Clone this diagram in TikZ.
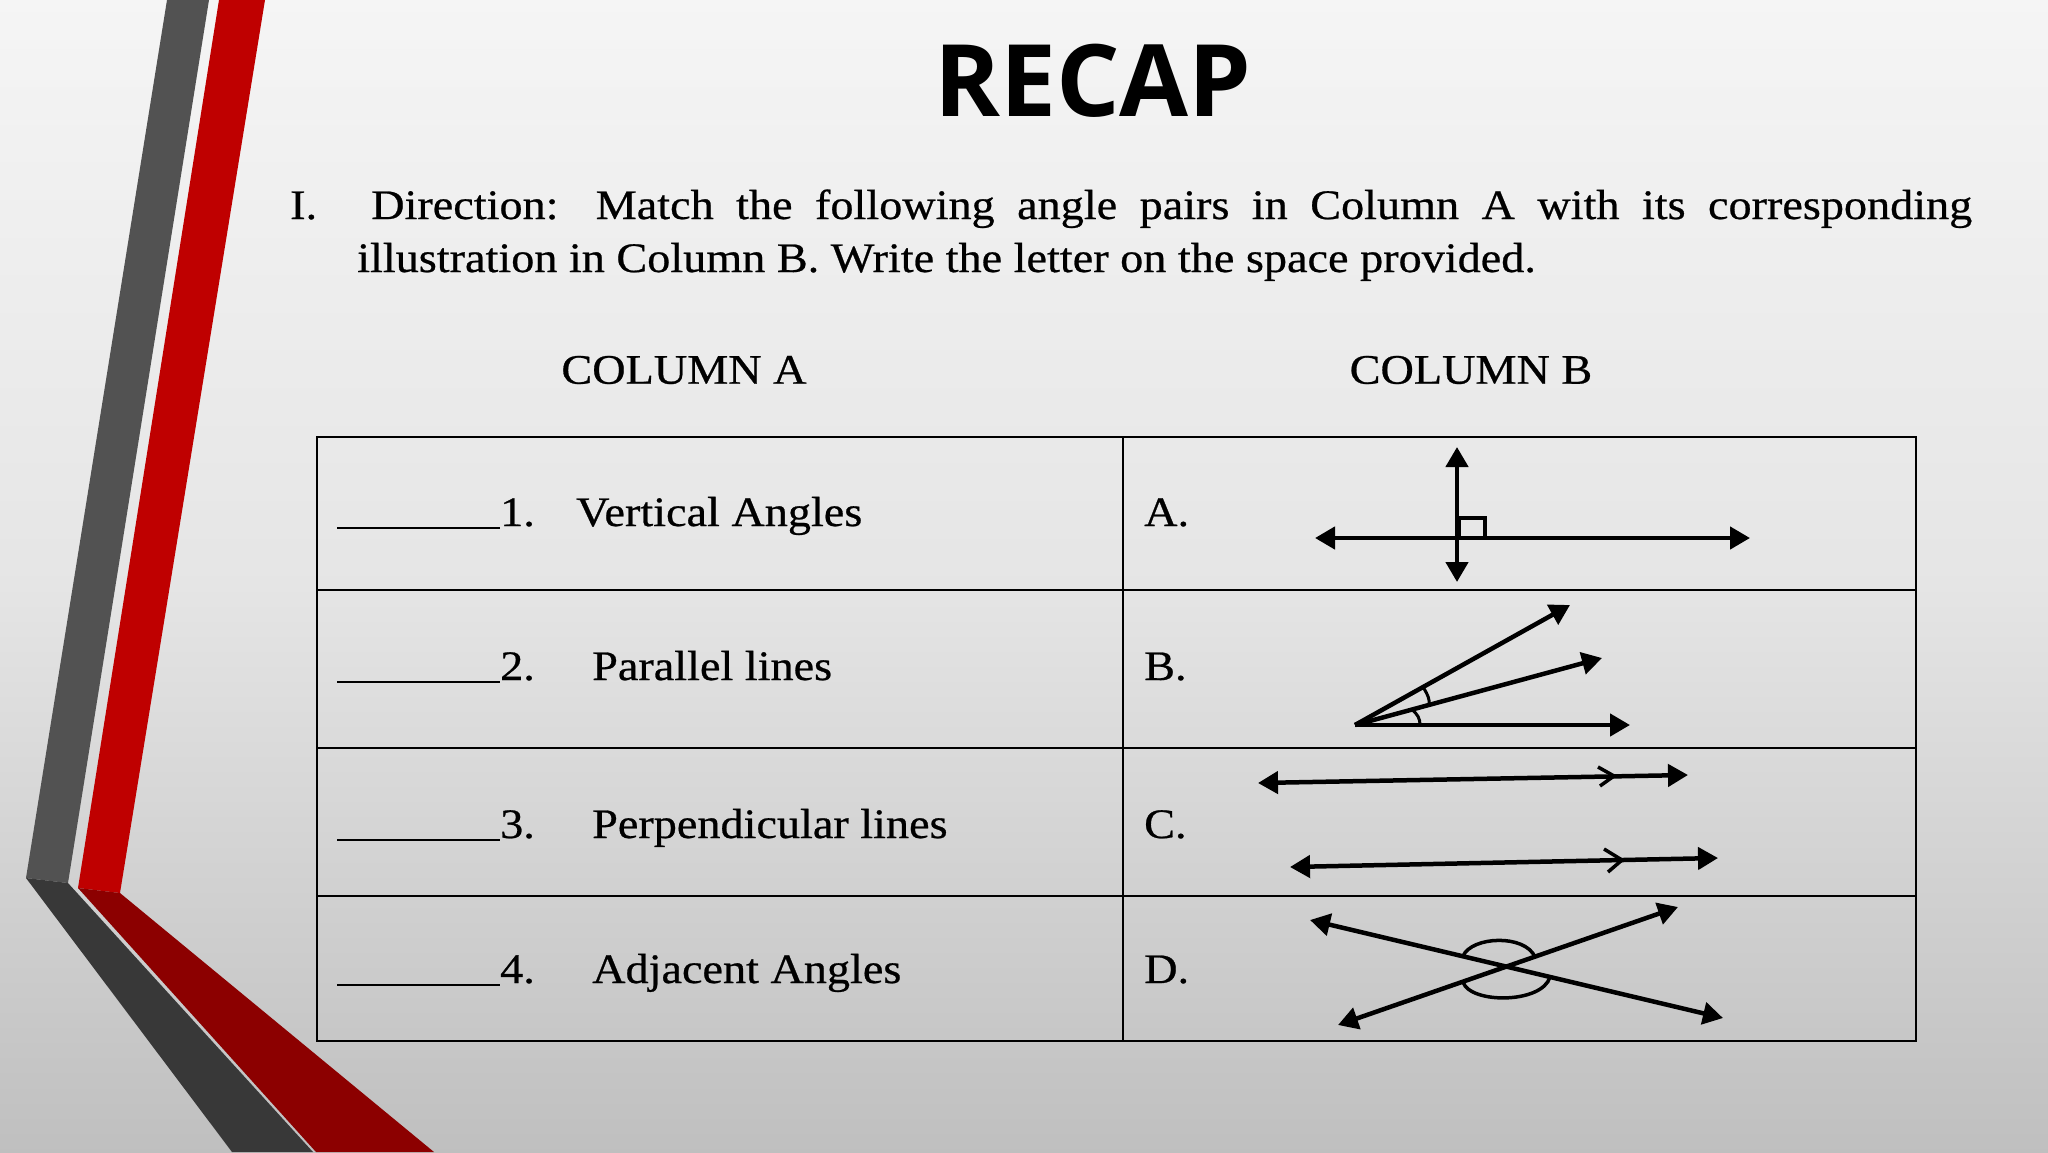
\documentclass[tikz,border=0pt]{standalone}
\usepackage{fontspec}
\setmainfont{Liberation Serif}[FakeStretch=1.1,FakeBold=0.6]
\newfontfamily\titlefont{Open Sans}
\usetikzlibrary{arrows.meta}
\begin{document}
\begin{tikzpicture}[x=1pt,y=-1pt,
  fig/.style={line width=4.5pt,black},
  ar/.style={fig,{Triangle[length=20pt,width=22pt]}-{Triangle[length=20pt,width=22pt]}},
  ra/.style={fig,-{Triangle[length=20pt,width=22pt]}},
  grid/.style={line width=2pt,black},
  txt/.style={font=\fontsize{42}{50}\selectfont,inner sep=0pt},
]
\useasboundingbox (0,0) rectangle (2048,1152);
\shade[top color=white!92!gray, bottom color=gray!50, middle color=gray!20] (0,0) rectangle (2048,1152);
% stripes
\fill[gray!30!black!80] (167,0) -- (209,0) -- (68,883) -- (26,878) -- cycle;
\fill[black!78] (26,878) -- (68,883) -- (313,1152) -- (232,1152) -- cycle;
\fill[red!75!black] (219,0) -- (265,0) -- (120,893) -- (78,888) -- cycle;
\fill[red!55!black] (78,888) -- (120,893) -- (434,1152) -- (316,1152) -- cycle;
% title
\node[font=\titlefont\bfseries\fontsize{100}{110}\selectfont] (title) at (1093,81) {RECAP};
\node[txt,anchor=base west] (num) at (290,219) {I.};
\node[txt,anchor=base west] (dir1) at (371,219) {\hbox to 1601pt{Direction: Match the following angle pairs in Column A with its corresponding}};
\node[txt,anchor=base west] (dir2) at (357,272) {illustration in Column B. Write the letter on the space provided.};
\node[txt] (ca) at (684,370) {COLUMN A};
\node[txt] (cb) at (1471,370) {COLUMN B};
% table
\draw[grid] (317,437) rectangle (1916,1041);
\draw[grid] (1123,437) -- (1123,1041);
\draw[grid] (317,590) -- (1916,590);
\draw[grid] (317,748) -- (1916,748);
\draw[grid] (317,896) -- (1916,896);
% column A
\foreach \y/\n/\t/\xx in {511/1./Vertical Angles/576, 665/2./Parallel lines/592, 823/3./Perpendicular lines/592, 968/4./Adjacent Angles/592}{
  \draw[line width=1.6pt] (337,\y+17) -- (500,\y+17);
  \node[txt,anchor=base west] at (500,\y+15) {\n};
  \node[txt,anchor=base west] at (\xx,\y+15) {\t};
}
\foreach \y/\l in {511/A., 665/B., 823/C., 968/D.}{
  \node[txt,anchor=base west] at (1144,\y+15) {\l};
}
% A
\coordinate (a1) at (1315,538); \coordinate (a2) at (1750,538);
\coordinate (a3) at (1457,447); \coordinate (a4) at (1457,582);
\draw[ar] (a1) -- (a2);
\draw[ar] (a3) -- (a4);
\draw[line width=3.5pt] (1459,518) rectangle (1485,538);
% B
\coordinate (v) at (1355,725);
\coordinate (b1) at (1570,605); \coordinate (b2) at (1602,658); \coordinate (b3) at (1630,725);
\draw[ra] (v) -- (b1);
\draw[ra] (v) -- (b2);
\draw[ra] (v) -- (b3);
\draw[line width=3pt] (1423,687) .. controls (1428,695) and (1430,700) .. (1429,705);
\draw[line width=3pt] (1411,709) .. controls (1418,714) and (1420,719) .. (1420,725);
% C
\coordinate (c1) at (1258,783); \coordinate (c2) at (1688,775);
\coordinate (c3) at (1290,867); \coordinate (c4) at (1718,858);
\draw[ar] (c1) -- (c2);
\draw[ar] (c3) -- (c4);
\draw[line width=3.5pt] (1598,767) -- (1614,776) -- (1600,786);
\draw[line width=3.5pt] (1604,849) -- (1622,860) -- (1608,872);
% D
\coordinate (d1) at (1310,920); \coordinate (d2) at (1723,1018);
\coordinate (d3) at (1338,1025); \coordinate (d4) at (1678,907);
\draw[ar] (d1) -- (d2);
\draw[ar] (d3) -- (d4);
\draw[line width=3.5pt] (1463,956) .. controls (1472,936) and (1525,934) .. (1535,957);
\draw[line width=3.5pt] (1463,982) .. controls (1470,1004) and (1542,1004) .. (1550,977);
\end{tikzpicture}
\end{document}
